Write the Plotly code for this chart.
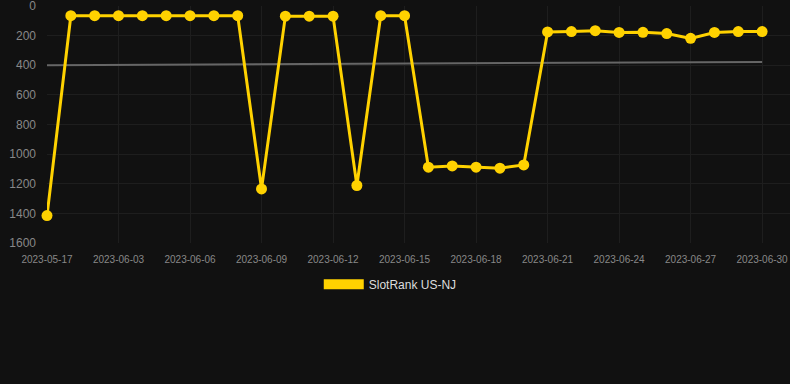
import plotly.graph_objects as go

dates = ["2023-05-17"] + [f"2023-06-{d:02d}" for d in range(1, 31)]
rank = [1415, 65, 65, 65, 65, 65, 65, 65, 65, 1235, 68, 68, 68, 1212, 65, 65,
        1088, 1080, 1088, 1095, 1073, 175, 172, 166, 178, 177, 186, 218, 178, 172, 172]
trend = [399, 377]
tick_labels = [dates[i] for i in range(0, 31, 3)]
series_name = "SlotRank US-NJ"

gold = "#FFD200"
fig = go.Figure()
fig.add_trace(go.Scatter(
    x=[dates[0], dates[-1]], y=trend, mode="lines",
    line=dict(color="#666666", width=2), showlegend=False, hoverinfo="skip"))
fig.add_trace(go.Scatter(
    x=dates, y=rank, mode="lines+markers", name=series_name,
    line=dict(color=gold, width=3), marker=dict(color=gold, size=11),
    showlegend=False, cliponaxis=False))
fig.add_trace(go.Scatter(
    x=[None], y=[None], mode="lines", name=series_name,
    line=dict(color=gold, width=12), showlegend=True))

fig.update_layout(
    width=790, height=384,
    paper_bgcolor="#111111", plot_bgcolor="#111111",
    margin=dict(l=47, r=0, t=6, b=141),
    font=dict(family="Liberation Sans, Arial, sans-serif", color="#888888"),
    legend=dict(orientation="h", x=0.462, xanchor="center", y=-0.113, yanchor="top",
                font=dict(size=12, color="#dddddd"), itemwidth=40),
    xaxis=dict(type="category", categoryorder="array", categoryarray=dates,
               range=[0, 31.17], tickmode="array", tickvals=tick_labels,
               ticktext=tick_labels, tickfont=dict(size=10, color="#888888"),
               showgrid=True, gridcolor="#1e1e1e", gridwidth=1, zeroline=False,
               showline=False, ticks="", tickangle=0, ticklabelstandoff=9),
    yaxis=dict(range=[1600.5, -0.5], tickvals=[0, 200, 400, 600, 800, 1000, 1200, 1400, 1600],
               tickfont=dict(size=12, color="#888888"), showgrid=True,
               gridcolor="#1e1e1e", gridwidth=1, zeroline=False, showline=False,
               ticks="", ticklabelstandoff=10, ticklabeloverflow="allow"),
)
fig.write_html("out.html", config={"displayModeBar": False},
               post_script="document.body.style.margin='0';document.body.style.background='#111111';")
